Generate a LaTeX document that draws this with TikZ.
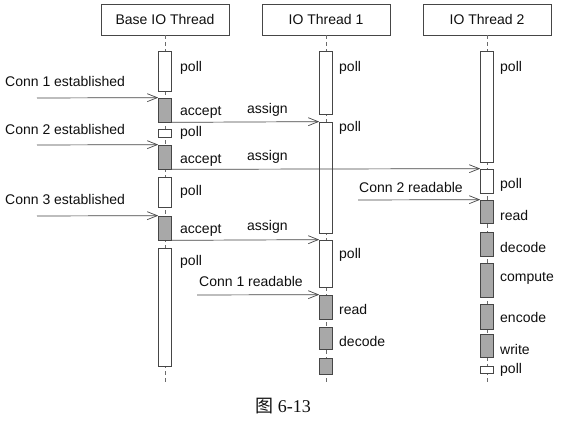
\documentclass[tikz,border=0pt]{standalone}
\usepackage{fontspec}
\setmainfont{Liberation Sans}
\newfontfamily\capserif{Liberation Serif}
\newfontfamily\cjk{Noto Sans CJK SC}
\usetikzlibrary{arrows.meta}
\definecolor{lineC}{RGB}{70,70,70}
\definecolor{actgray}{RGB}{168,168,168}
\definecolor{txt}{RGB}{15,15,15}
\newcommand\actbox[5]{\node[#5, minimum height={(#4-#3)*1pt}] (#1) at (#2,{(#3+#4)/2}) {};}
\begin{document}
\begin{tikzpicture}[x=1pt,y=-1pt,
  header/.style={draw=lineC, line width=0.7pt, fill=white, minimum width=128pt, minimum height=31pt, inner sep=0pt, font=\fontsize{14}{16}\selectfont, text=txt},
  life/.style={draw=lineC!80, line width=0.6pt, dash pattern=on 4pt off 3pt},
  idle/.style={draw=lineC, line width=0.7pt, fill=white, minimum width=13pt, inner sep=0pt},
  busy/.style={draw=lineC, line width=0.7pt, fill=actgray, minimum width=13pt, inner sep=0pt},
  msg/.style={draw=lineC, line width=0.7pt, -{Straight Barb[length=10pt,width=8pt,line width=0.7pt]}},
  lbl/.style={anchor=base west, inner sep=0pt, font=\fontsize{14}{16}\selectfont, text=txt}
  ]
\useasboundingbox (0,0) rectangle (565,427);
\fill[white] (0,0) rectangle (565,427);

% headers
\node[header] (hb) at (165,19.5) {Base IO Thread};
\node[header] (h1) at (326,19.5) {IO Thread 1};
\node[header] (h2) at (487,19.5) {IO Thread 2};

% lifeline ends
\coordinate (eb) at (165,382);
\coordinate (e1) at (326,382);
\coordinate (e2) at (487,382);
\draw[life] (hb.south) -- (eb);
\draw[life] (h1.south) -- (e1);
\draw[life] (h2.south) -- (e2);

% Base IO Thread activations
\actbox{bp1}{165}{51}{91}{idle}
\actbox{ba1}{165}{98}{122}{busy}
\actbox{bp2}{165}{129.5}{137}{idle}
\actbox{ba2}{165}{145}{169}{busy}
\actbox{bp3}{165}{177}{207}{idle}
\actbox{ba3}{165}{216}{240}{busy}
\actbox{bp4}{165}{248}{366}{idle}

% IO Thread 1 activations
\actbox{t1p1}{326}{51}{114}{idle}
\actbox{t1p2}{326}{122}{233}{idle}
\actbox{t1p3}{326}{240}{287}{idle}
\actbox{t1r}{326}{295}{319}{busy}
\actbox{t1d}{326}{327}{349}{busy}
\actbox{t1x}{326}{358}{374}{busy}

% IO Thread 2 activations
\actbox{t2p1}{487}{51}{162}{idle}
\actbox{t2p2}{487}{169}{193}{idle}
\actbox{t2r}{487}{200}{223}{busy}
\actbox{t2d}{487}{232}{256}{busy}
\actbox{t2c}{487}{263}{297}{busy}
\actbox{t2e}{487}{304}{329}{busy}
\actbox{t2w}{487}{334}{357}{busy}
\actbox{t2p3}{487}{366}{373}{idle}

% incoming connection events
\coordinate (c1) at (37,98);
\coordinate (c2) at (37,145);
\coordinate (c3) at (37,216);
\coordinate (r1) at (197,295);
\coordinate (r2) at (358,200);
\draw[msg] (c1) -- (ba1.north west);
\draw[msg] (c2) -- (ba2.north west);
\draw[msg] (c3) -- (ba3.north west);
\draw[msg] (r1) -- (t1r.north west);
\draw[msg] (r2) -- (t2r.north west);

% assign messages
\draw[msg] (ba1.south east) -- (t1p2.north west);
\draw[msg] (ba2.south east) -- (t2p2.north west);
\draw[msg] (ba3.south east) -- (t1p3.north west);

% event labels
\node[lbl] (lc1) at (5,87) {Conn 1 established};
\node[lbl] (lc2) at (5,135) {Conn 2 established};
\node[lbl] (lc3) at (5,205) {Conn 3 established};
\node[lbl] (lr1) at (199,287) {Conn 1 readable};
\node[lbl] (lr2) at (359,193) {Conn 2 readable};
\node[lbl] (las1) at (247,114) {assign};
\node[lbl] (las2) at (247,161) {assign};
\node[lbl] (las3) at (247,231) {assign};

% Base labels
\node[lbl] (lbp1) at (180,72) {poll};
\node[lbl] (lba1) at (180,116) {accept};
\node[lbl] (lbp2) at (180,137) {poll};
\node[lbl] (lba2) at (180,164) {accept};
\node[lbl] (lbp3) at (180,196) {poll};
\node[lbl] (lba3) at (180,234) {accept};
\node[lbl] (lbp4) at (180,266) {poll};

% Thread 1 labels
\node[lbl] (l1p1) at (339,72) {poll};
\node[lbl] (l1p2) at (339,132) {poll};
\node[lbl] (l1p3) at (339,259) {poll};
\node[lbl] (l1r) at (339,315) {read};
\node[lbl] (l1d) at (339,347) {decode};

% Thread 2 labels
\node[lbl] (l2p1) at (500,72) {poll};
\node[lbl] (l2p2) at (500,189) {poll};
\node[lbl] (l2r) at (500,221) {read};
\node[lbl] (l2d) at (500,253) {decode};
\node[lbl] (l2c) at (500,282) {compute};
\node[lbl] (l2e) at (500,323) {encode};
\node[lbl] (l2w) at (500,355) {write};
\node[lbl] (l2p3) at (500,374) {poll};

% caption
\node[text=txt, inner sep=0pt] (cap) at (283,406) {\fontsize{18}{20}\selectfont{\cjk 图}\capserif\ 6-13};
\end{tikzpicture}
\end{document}
